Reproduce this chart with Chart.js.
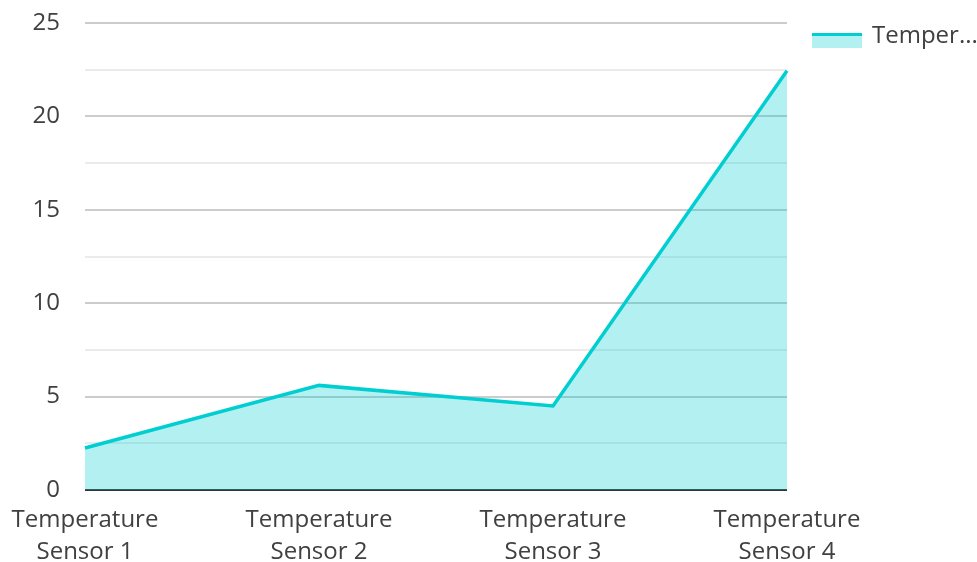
<!DOCTYPE html>
<html>
<head>
<meta charset="utf-8">
<script src="https://cdn.jsdelivr.net/npm/chart.js@4/dist/chart.umd.min.js"></script>
<style>
html,body{margin:0;padding:0;background:#fff;}
#wrap{width:977px;height:562px;position:relative;}
</style>
</head>
<body>
<div id="wrap"><canvas id="c" width="977" height="562"></canvas></div>
<script>
const categories = [["Temperature","Sensor 1"],["Temperature","Sensor 2"],["Temperature","Sensor 3"],["Temperature","Sensor 4"]];
const seriesName = "Temperature";
const legendText = "Temper...";
const temperatureValues = [2.25, 5.6, 4.5, 22.45];
const yMin = 0, yMax = 25, yStep = 2.5, yLabelStep = 5;

const lineColor = '#00CED1';
const fillColor = 'rgba(0,206,209,0.3)';
const textColor = '#404040';
const fontFamily = "'Open Sans', 'Noto Sans', sans-serif";

const legendPlugin = {
  id: 'customLegend',
  afterDraw(chart) {
    const ctx = chart.ctx;
    const x = chart.chartArea.right + 25;
    const y = 33;
    ctx.save();
    ctx.fillStyle = fillColor;
    ctx.fillRect(x, y, 50, 15);
    ctx.fillStyle = lineColor;
    ctx.fillRect(x, y, 50, 3);
    ctx.fillStyle = textColor;
    ctx.font = "24px " + fontFamily;
    ctx.textBaseline = 'middle';
    ctx.textAlign = 'left';
    ctx.fillText(legendText, x + 60, y + 3);
    ctx.restore();
  }
};

new Chart(document.getElementById('c'), {
  type: 'line',
  data: {
    labels: categories,
    datasets: [{
      label: seriesName,
      data: temperatureValues,
      borderColor: lineColor,
      backgroundColor: fillColor,
      borderWidth: 3.5,
      fill: 'origin',
      tension: 0,
      pointRadius: 0,
      pointHoverRadius: 0
    }]
  },
  options: {
    responsive: false,
    animation: false,
    layout: { padding: { top: 23, right: 190, left: 0, bottom: 0 } },
    plugins: { legend: { display: false }, tooltip: { enabled: false } },
    scales: {
      x: {
        offset: false,
        grid: { display: false },
        border: { display: false },
        ticks: {
          color: textColor,
          font: { family: fontFamily, size: 24, lineHeight: 1.33 },
          padding: 6,
          maxRotation: 0,
          autoSkip: false
        },
        afterFit(scale) { scale.height = 72; scale.paddingLeft = 0; scale.paddingRight = 0; }
      },
      y: {
        min: yMin, max: yMax,
        border: { display: false },
        grid: {
          drawTicks: false,
          color(ctx) {
            const v = ctx.tick.value;
            if (v === 0) return '#333333';
            return (Math.abs(v % yLabelStep) < 1e-9) ? '#cccccc' : '#ebebeb';
          },
          lineWidth: 2
        },
        ticks: {
          stepSize: yStep,
          color: textColor,
          font: { family: fontFamily, size: 24 },
          padding: 25,
          callback(v) { return (Math.abs(v % yLabelStep) < 1e-9) ? String(v) : ''; }
        },
        afterFit(scale) { scale.width = 85; scale.paddingTop = 0; scale.paddingBottom = 0; }
      }
    }
  },
  plugins: [legendPlugin]
});
</script>
</body>
</html>
